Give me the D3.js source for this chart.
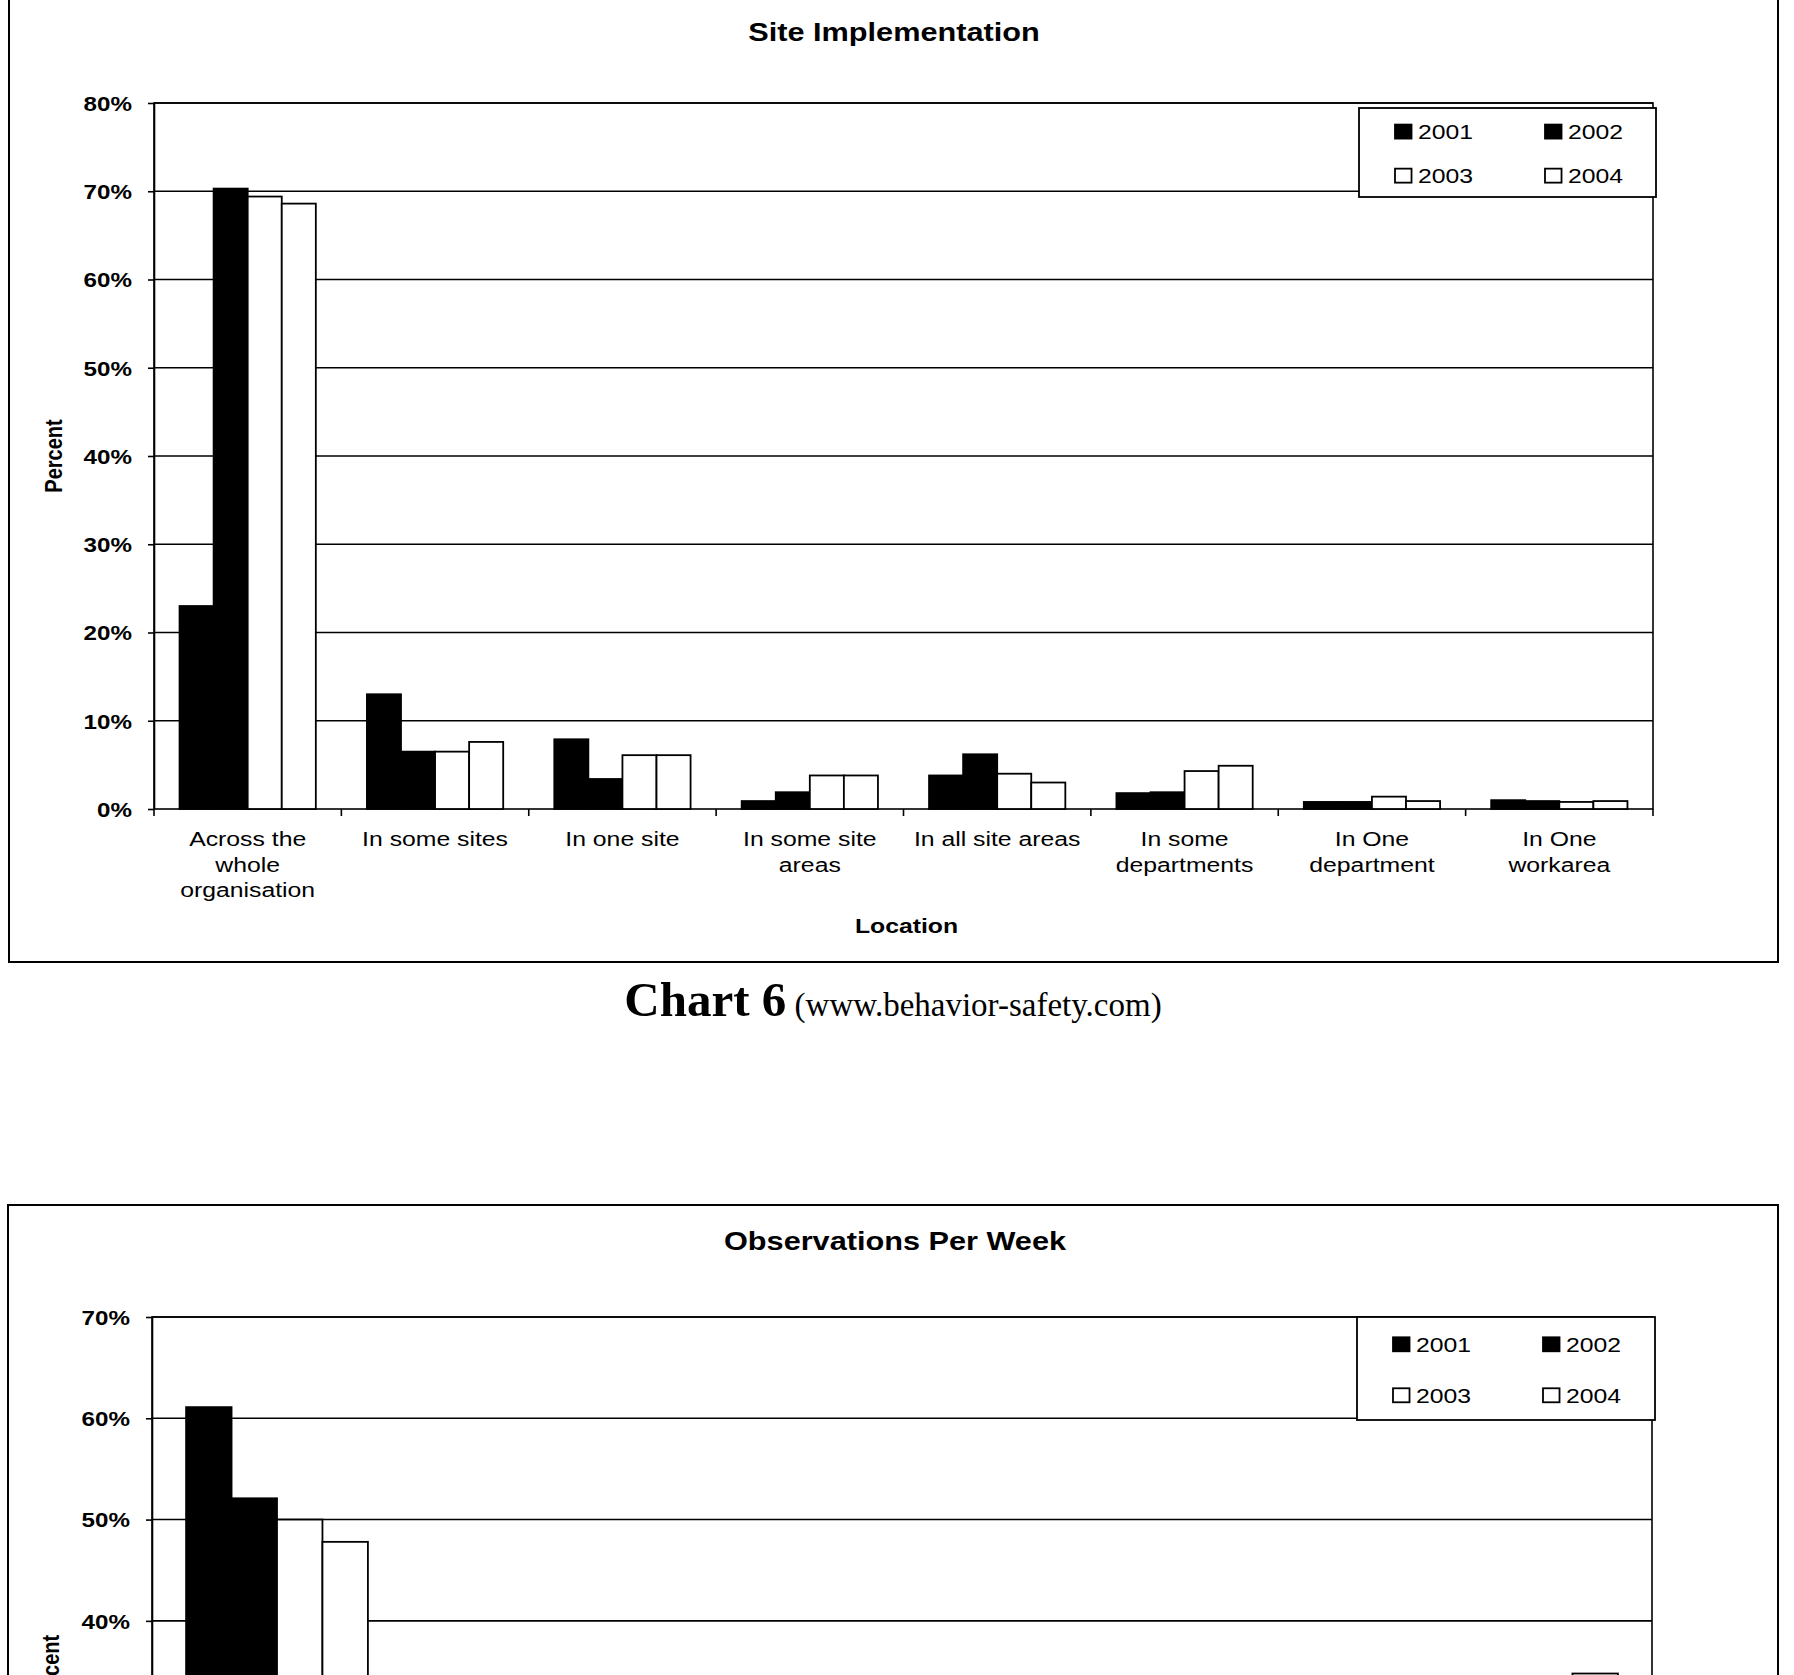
<!DOCTYPE html>
<html>
<head>
<meta charset="utf-8">
<script src="https://cdn.jsdelivr.net/npm/d3@7"></script>
<style>
  body { margin: 0; background: #fff; }
  text { font-family: "Liberation Sans", Arial, sans-serif; fill: #000; }
</style>
</head>
<body>
<svg id="page" width="1794" height="1675"></svg>
<script>
// ---- data ----
const years = ["2001", "2002", "2003", "2004"];
const yearFill = ["#000", "#000", "#fff", "#fff"];

const siteLocations = [
    ["Across the", "whole", "organisation"],
    ["In some sites"],
    ["In one site"],
    ["In some site", "areas"],
    ["In all site areas"],
    ["In some", "departments"],
    ["In One", "department"],
    ["In One", "workarea"]
];
const site2001 = [23.0, 13.0, 7.9, 0.9, 3.8, 1.8, 0.8, 1.0];
const site2002 = [70.3, 6.5, 3.4, 1.9, 6.2, 1.9, 0.8, 0.9];
const site2003 = [69.4, 6.5, 6.1, 3.8, 4.0, 4.3, 1.4, 0.8];
const site2004 = [68.6, 7.6, 6.1, 3.8, 3.0, 4.9, 0.9, 0.9];
const siteTicks = [0, 10, 20, 30, 40, 50, 60, 70, 80];

// second chart is cut off by the page edge, only the first group is fully visible
const obsCategories = [["1 - 10"], ["11 - 25"], ["26 - 50"], ["51 - 100"], ["101 - 200"], ["Over 200"]];
const obs2001 = [61.1, 14.0, 9.0, 6.0, 4.0, 6.0];
const obs2002 = [52.1, 16.0, 11.0, 7.0, 5.0, 9.0];
const obs2003 = [50.0, 14.0, 10.0, 6.0, 4.0, 16.0];
const obs2004 = [47.8, 6.0, 4.0, 4.0, 3.4, 34.8];
const obsTicks = [0, 10, 20, 30, 40, 50, 60, 70];

// the scanned chart picture is stretched sideways
const SX = 1.18;
const W = 1794, H = 1675;

const svg = d3.select("#page");
svg.append("rect").attr("width", W).attr("height", H).attr("fill", "#fff");

function drawChart(cfg) {
    const g = svg.append("g");

    g.append("rect")
        .attr("x", cfg.frame[0]).attr("y", cfg.frame[1])
        .attr("width", cfg.frame[2] - cfg.frame[0])
        .attr("height", cfg.frame[3] - cfg.frame[1])
        .attr("fill", "#fff").attr("stroke", "#000").attr("stroke-width", 2);

    g.append("text")
        .attr("transform", `translate(${cfg.titleX},${cfg.titleY}) scale(${SX},1)`)
        .attr("text-anchor", "middle")
        .style("font-size", "26px").style("font-weight", "bold")
        .text(cfg.title);

    const x = d3.scaleBand().domain(d3.range(cfg.categories.length)).range([cfg.left, cfg.right]);
    const xs = d3.scaleBand().domain(years).range([0, x.bandwidth()]).paddingOuter(0.75);
    const y = d3.scaleLinear().domain([0, cfg.yMax]).range([cfg.bottom, cfg.top]);

    // gridlines
    g.append("g").selectAll("line")
        .data(cfg.ticks.filter(t => t > 0))
        .join("line")
        .attr("x1", cfg.left).attr("x2", cfg.right)
        .attr("y1", d => y(d)).attr("y2", d => y(d))
        .attr("stroke", "#000").attr("stroke-width", 1.6);

    g.append("rect")
        .attr("x", cfg.left).attr("y", cfg.top)
        .attr("width", cfg.right - cfg.left).attr("height", cfg.bottom - cfg.top)
        .attr("fill", "none").attr("stroke", "#000").attr("stroke-width", 1.6);

    // bars
    const rows = [];
    cfg.series.forEach((vals, si) => {
        vals.forEach((v, ci) => rows.push({ ci: ci, year: years[si], fill: yearFill[si], v: v }));
    });
    g.append("g").selectAll("rect")
        .data(rows)
        .join("rect")
        .attr("x", d => x(d.ci) + xs(d.year))
        .attr("y", d => y(d.v))
        .attr("width", xs.bandwidth())
        .attr("height", d => y(0) - y(d.v))
        .attr("fill", d => d.fill)
        .attr("stroke", "#000").attr("stroke-width", 1.8);

    // y axis
    const yAxis = g.append("g")
        .attr("transform", `translate(${cfg.left},0)`)
        .call(d3.axisLeft(y).tickValues(cfg.ticks).tickSize(6).tickSizeOuter(0).tickFormat(d => d + "%"));
    yAxis.attr("font-family", null).attr("font-size", null);
    yAxis.selectAll("path, line").attr("stroke", "#000").attr("stroke-width", 1.6);
    yAxis.selectAll(".tick").filter(d => y(d) > H).remove();
    yAxis.selectAll("text")
        .attr("x", -22 / SX).attr("dy", "0.36em")
        .attr("transform", `scale(${SX},1)`)
        .style("font-size", "20.5px").style("font-weight", "bold");

    // x axis ticks on category boundaries
    const bounds = d3.range(cfg.categories.length + 1).map(i => cfg.left + i * x.step());
    g.append("g").selectAll("line")
        .data(bounds)
        .join("line")
        .attr("x1", d => d).attr("x2", d => d)
        .attr("y1", cfg.bottom).attr("y2", cfg.bottom + 7)
        .attr("stroke", "#000").attr("stroke-width", 1.6);

    if (cfg.bottom + 40 < H) {
        const labels = [];
        cfg.categories.forEach((lines, ci) => lines.forEach((t, li) => labels.push({ ci: ci, li: li, t: t })));
        g.append("g").selectAll("text")
            .data(labels)
            .join("text")
            .attr("transform", d => `translate(${x(d.ci) + x.bandwidth() / 2},${cfg.bottom + 37 + d.li * 25.5}) scale(${SX},1)`)
            .attr("text-anchor", "middle")
            .style("font-size", "21px")
            .text(d => d.t);

        g.append("text")
            .attr("transform", `translate(${(cfg.left + cfg.right) / 2 + 3},${cfg.bottom + 124}) scale(${SX},1)`)
            .attr("text-anchor", "middle")
            .style("font-size", "21px").style("font-weight", "bold")
            .text(cfg.xTitle);
    }

    g.append("text")
        .attr("transform", `translate(${cfg.yTitleX},${(cfg.top + cfg.bottom) / 2}) scale(${SX},1) rotate(-90)`)
        .attr("text-anchor", "middle")
        .style("font-size", "20px").style("font-weight", "bold")
        .text(cfg.yTitle);

    // legend
    const lb = cfg.legend;
    const lg = g.append("g");
    lg.append("rect")
        .attr("x", lb[0]).attr("y", lb[1])
        .attr("width", lb[2] - lb[0]).attr("height", lb[3] - lb[1])
        .attr("fill", "#fff").attr("stroke", "#000").attr("stroke-width", 1.8);
    const lh = lb[3] - lb[1];
    const item = lg.selectAll("g.item")
        .data(years)
        .join("g")
        .attr("class", "item")
        .attr("transform", (d, i) => `translate(${lb[0] + (i % 2 ? 186 : 36)},${lb[1] + lh * (i < 2 ? 0.265 : 0.76)})`);
    item.append("rect")
        .attr("x", 0).attr("y", -7)
        .attr("width", 14 * SX).attr("height", 14)
        .attr("fill", (d, i) => yearFill[i])
        .attr("stroke", "#000").attr("stroke-width", 1.8);
    item.append("text")
        .attr("transform", `translate(23,7.5) scale(${SX},1)`)
        .style("font-size", "21px")
        .text(d => d);
}

drawChart({
    frame: [9, -2, 1778, 962],
    title: "Site Implementation", titleX: 894, titleY: 41,
    left: 154, right: 1653, top: 103, bottom: 809, yMax: 80,
    ticks: siteTicks,
    categories: siteLocations,
    series: [site2001, site2002, site2003, site2004],
    xTitle: "Location", yTitle: "Percent", yTitleX: 62,
    legend: [1359, 108, 1656, 197]
});

drawChart({
    frame: [8, 1205, 1778, 2300],
    title: "Observations Per Week", titleX: 895, titleY: 1250,
    left: 152, right: 1652, top: 1317, bottom: 2026, yMax: 70,
    ticks: obsTicks,
    categories: obsCategories,
    series: [obs2001, obs2002, obs2003, obs2004],
    xTitle: "Observations", yTitle: "Percent", yTitleX: 59,
    legend: [1357, 1317, 1655, 1420]
});

// caption between the two charts
const cap = svg.append("text")
    .attr("x", 893).attr("y", 1016)
    .attr("text-anchor", "middle")
    .style("font-family", '"Liberation Serif", "Times New Roman", serif');
cap.append("tspan").style("font-size", "49px").style("font-weight", "bold").text("Chart 6");
cap.append("tspan").style("font-size", "33px").text(" (www.behavior-safety.com)");
</script>
</body>
</html>
